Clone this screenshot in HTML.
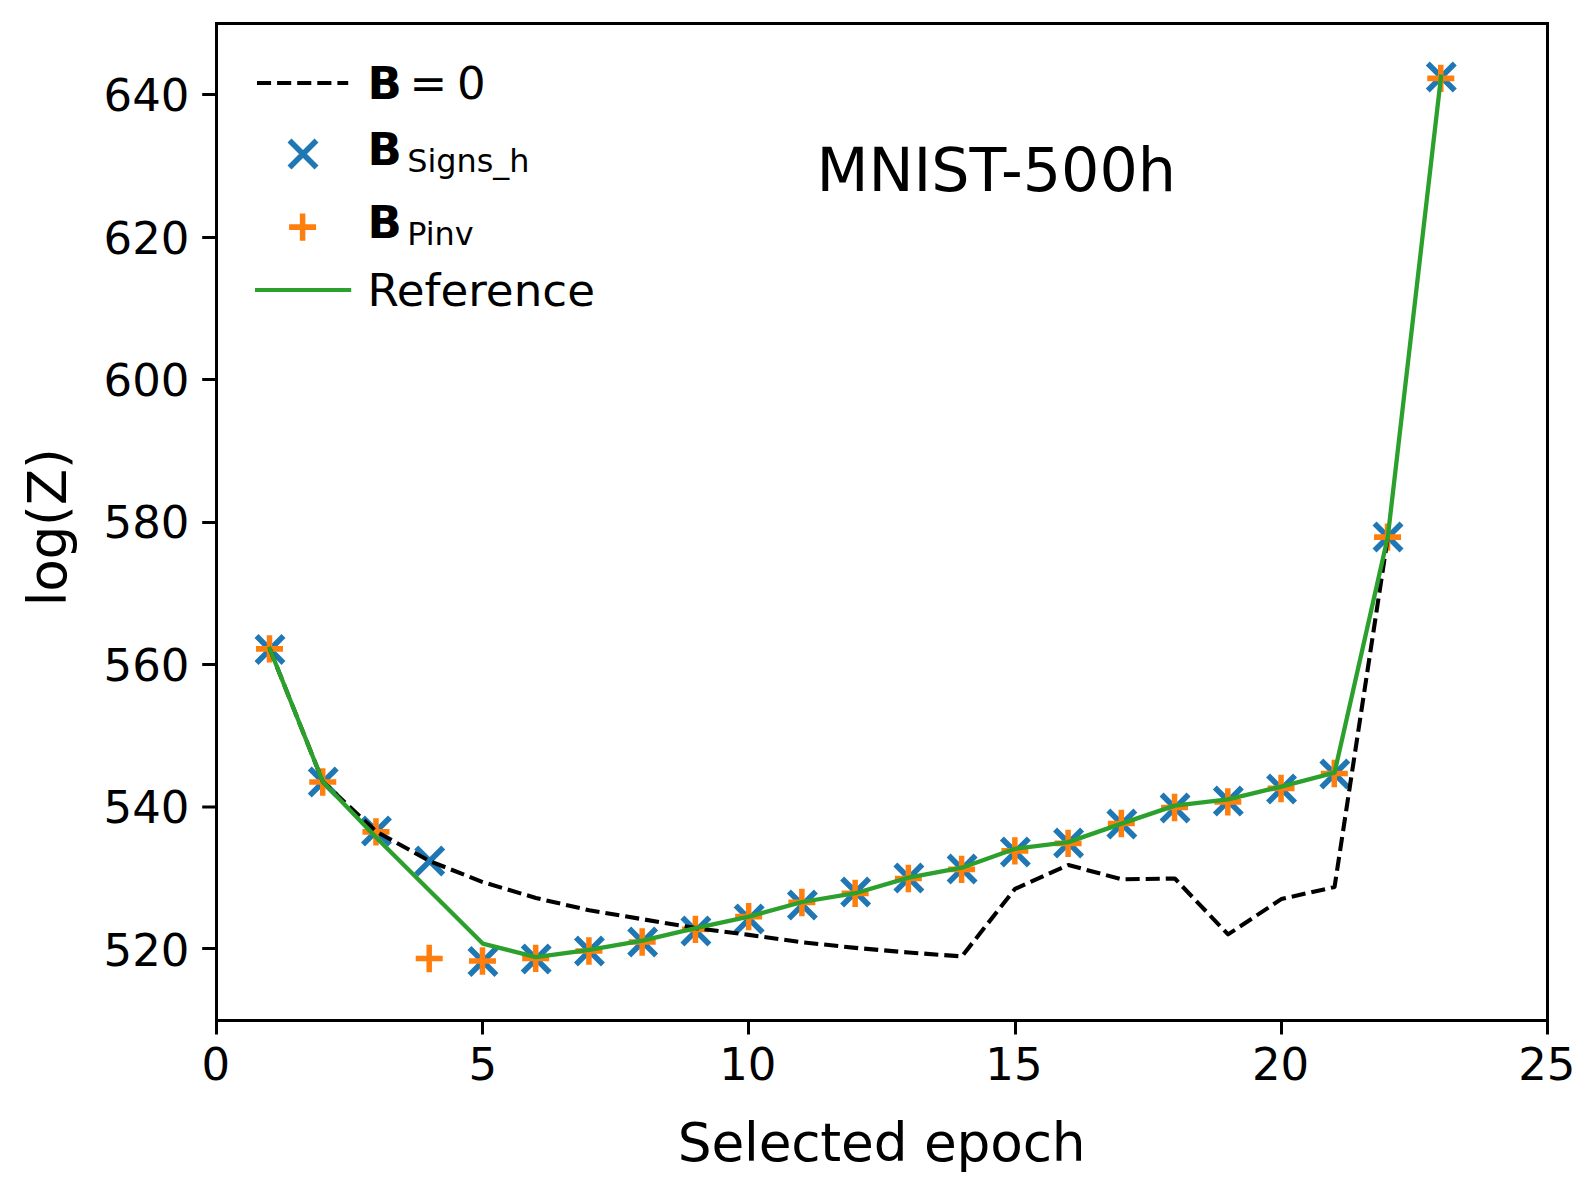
<!DOCTYPE html>
<html lang="en">
<head>
<meta charset="utf-8">
<title>MNIST-500h</title>
<style>
html,body{margin:0;padding:0;background:#fff;}
body{width:1590px;height:1194px;overflow:hidden;}
svg{display:block;font-family:"DejaVu Sans","Liberation Sans",sans-serif;fill:#000;}
</style>
</head>
<body>
<svg width="1590" height="1194" viewBox="0 0 1590 1194">
<rect width="1590" height="1194" fill="#fff"/>
<path d="M256.49 635.90L283.49 662.90M256.49 662.90L283.49 635.90M309.73 768.40L336.73 795.40M309.73 795.40L336.73 768.40M362.97 817.40L389.97 844.40M362.97 844.40L389.97 817.40M416.21 847.45L443.21 874.45M416.21 874.45L443.21 847.45M469.45 948.00L496.45 975.00M469.45 975.00L496.45 948.00M522.69 945.40L549.69 972.40M522.69 972.40L549.69 945.40M575.93 937.50L602.93 964.50M575.93 964.50L602.93 937.50M629.17 928.50L656.17 955.50M629.17 955.50L656.17 928.50M682.41 917.40L709.41 944.40M682.41 944.40L709.41 917.40M735.65 905.40L762.65 932.40M735.65 932.40L762.65 905.40M788.89 891.50L815.89 918.50M788.89 918.50L815.89 891.50M842.13 878.50L869.13 905.50M842.13 905.50L869.13 878.50M895.37 864.50L922.37 891.50M895.37 891.50L922.37 864.50M948.61 855.50L975.61 882.50M948.61 882.50L975.61 855.50M1001.85 838.40L1028.85 865.40M1001.85 865.40L1028.85 838.40M1055.09 829.50L1082.09 856.50M1055.09 856.50L1082.09 829.50M1108.33 810.40L1135.33 837.40M1108.33 837.40L1135.33 810.40M1161.57 794.50L1188.57 821.50M1161.57 821.50L1188.57 794.50M1214.81 787.50L1241.81 814.50M1214.81 814.50L1241.81 787.50M1268.05 775.40L1295.05 802.40M1268.05 802.40L1295.05 775.40M1321.29 760.40L1348.29 787.40M1321.29 787.40L1348.29 760.40M1374.53 523.40L1401.53 550.40M1374.53 550.40L1401.53 523.40M1427.77 63.40L1454.77 90.40M1427.77 90.40L1454.77 63.40" stroke="#1f77b4" stroke-width="5.6" fill="none"/>
<path d="M255.99 648.90H282.99M309.23 782.00H336.23M362.47 831.90H389.47M415.71 958.50H442.71M468.95 961.00H495.95M522.19 958.40H549.19M575.43 951.00H602.43M628.67 942.00H655.67M681.91 929.40H708.91M735.15 916.60H762.15M788.39 902.45H815.39M841.63 893.40H868.63M894.87 878.50H921.87M948.11 869.40H975.11M1001.35 850.90H1028.35M1054.59 843.40H1081.59M1107.83 823.50H1134.83M1161.07 807.50H1188.07M1214.31 801.90H1241.31M1267.55 788.45H1294.55M1320.79 773.50H1347.79M1374.03 537.10H1401.03M1427.27 78.40H1454.27M289.10 227.10H316.10" stroke="#ff7f0e" stroke-width="5.7" fill="none"/>
<path d="M269.49 635.20V662.60M322.73 768.30V795.70M375.97 818.20V845.60M429.21 944.80V972.20M482.45 947.30V974.70M535.69 944.70V972.10M588.93 937.30V964.70M642.17 928.30V955.70M695.41 915.70V943.10M748.65 902.90V930.30M801.89 888.75V916.15M855.13 879.70V907.10M908.37 864.80V892.20M961.61 855.70V883.10M1014.85 837.20V864.60M1068.09 829.70V857.10M1121.33 809.80V837.20M1174.57 793.80V821.20M1227.81 788.20V815.60M1281.05 774.75V802.15M1334.29 759.80V787.20M1387.53 523.40V550.80M1440.77 64.70V92.10M302.60 213.40V240.80" stroke="#ff7f0e" stroke-width="5.5" fill="none"/>
<polyline points="269.74,648.80 322.98,782.00 376.22,831.50 429.46,860.95 482.70,882.10 535.94,898.00 589.18,910.30 642.42,919.20 695.66,928.10 748.90,934.90 802.14,942.20 855.38,947.90 908.62,952.50 961.86,956.40 1015.10,888.80 1068.34,865.00 1121.58,879.30 1174.82,878.50 1228.06,934.40 1281.30,899.10 1334.54,887.00 1387.78,537.50" fill="none" stroke="#000" stroke-width="4.1" stroke-dasharray="14.1 6.0" stroke-dashoffset="1.4" stroke-linejoin="round"/>
<polyline points="269.74,648.80 322.98,782.00 376.22,837.50 429.46,890.50 482.70,943.60 535.94,957.20 589.18,949.80 642.42,940.70 695.66,928.10 748.90,916.60 802.14,902.00 855.38,893.20 908.62,877.60 961.86,867.70 1015.10,848.80 1068.34,842.10 1121.58,823.60 1174.82,805.60 1228.06,799.40 1281.30,786.60 1334.54,772.70 1387.78,537.00 1441.02,76.70" fill="none" stroke="#2ca02c" stroke-width="4.3" stroke-linejoin="round" stroke-linecap="square"/>
<rect x="216.5" y="23.5" width="1331.0" height="997.0" fill="none" stroke="#000" stroke-width="3"/>
<path d="M216.5 1020.5V1034.5M482.5 1020.5V1034.5M748.5 1020.5V1034.5M1015.5 1020.5V1034.5M1281.5 1020.5V1034.5M1547.5 1020.5V1034.5M216.5 948.5H202.2M216.5 806.9H202.2M216.5 664.5H202.2M216.5 522.5H202.2M216.5 379.5H202.2M216.5 237.5H202.2M216.5 94.5H202.2" stroke="#000" stroke-width="3" fill="none"/>
<g font-size="45px" text-anchor="middle">
<text x="215.8" y="1079.6">0</text>
<text x="482.8" y="1079.6">5</text>
<text x="747.8" y="1079.6">10</text>
<text x="1014.0" y="1079.6">15</text>
<text x="1280.6" y="1079.6">20</text>
<text x="1546.8" y="1079.6">25</text>
</g>
<g font-size="45px" text-anchor="end">
<text x="189.5" y="965.7">520</text>
<text x="189.5" y="823.3">540</text>
<text x="189.5" y="680.8">560</text>
<text x="189.5" y="538.4">580</text>
<text x="189.5" y="396.0">600</text>
<text x="189.5" y="253.5">620</text>
<text x="189.5" y="111.1">640</text>
</g>
<text x="881.6" y="1160.6" font-size="53.3px" text-anchor="middle" letter-spacing="-0.2">Selected epoch</text>
<text transform="translate(65.7 527.45) rotate(-90)" font-size="53.3px" text-anchor="middle" letter-spacing="-0.25">log(Z)</text>
<text x="996.2" y="190.8" font-size="60.3px" text-anchor="middle">MNIST-500h</text>
<path d="M257 83H348.2" stroke="#000" stroke-width="4" stroke-dasharray="14.1 6.0" fill="none"/>
<path d="M289.50 140.40L316.50 167.40M289.50 167.40L316.50 140.40" stroke="#1f77b4" stroke-width="5.6" fill="none"/>
<path d="M255 290H351.2" stroke="#2ca02c" stroke-width="4" fill="none"/>
<g font-size="45px">
<text x="367.4" y="98.6"><tspan font-weight="bold">B</tspan><tspan x="409.5">=</tspan><tspan x="457">0</tspan></text>
<text x="367.4" y="164.5"><tspan font-weight="bold">B</tspan><tspan x="407.2" y="171.7" font-size="31.9px">Signs_h</tspan></text>
<text x="367.6" y="237.9"><tspan font-weight="bold">B</tspan><tspan x="407.2" y="244.6" font-size="31.9px">Pinv</tspan></text>
<text x="367.4" y="306" font-size="45.2px">Reference</text>
</g>
</svg>
</body>
</html>
